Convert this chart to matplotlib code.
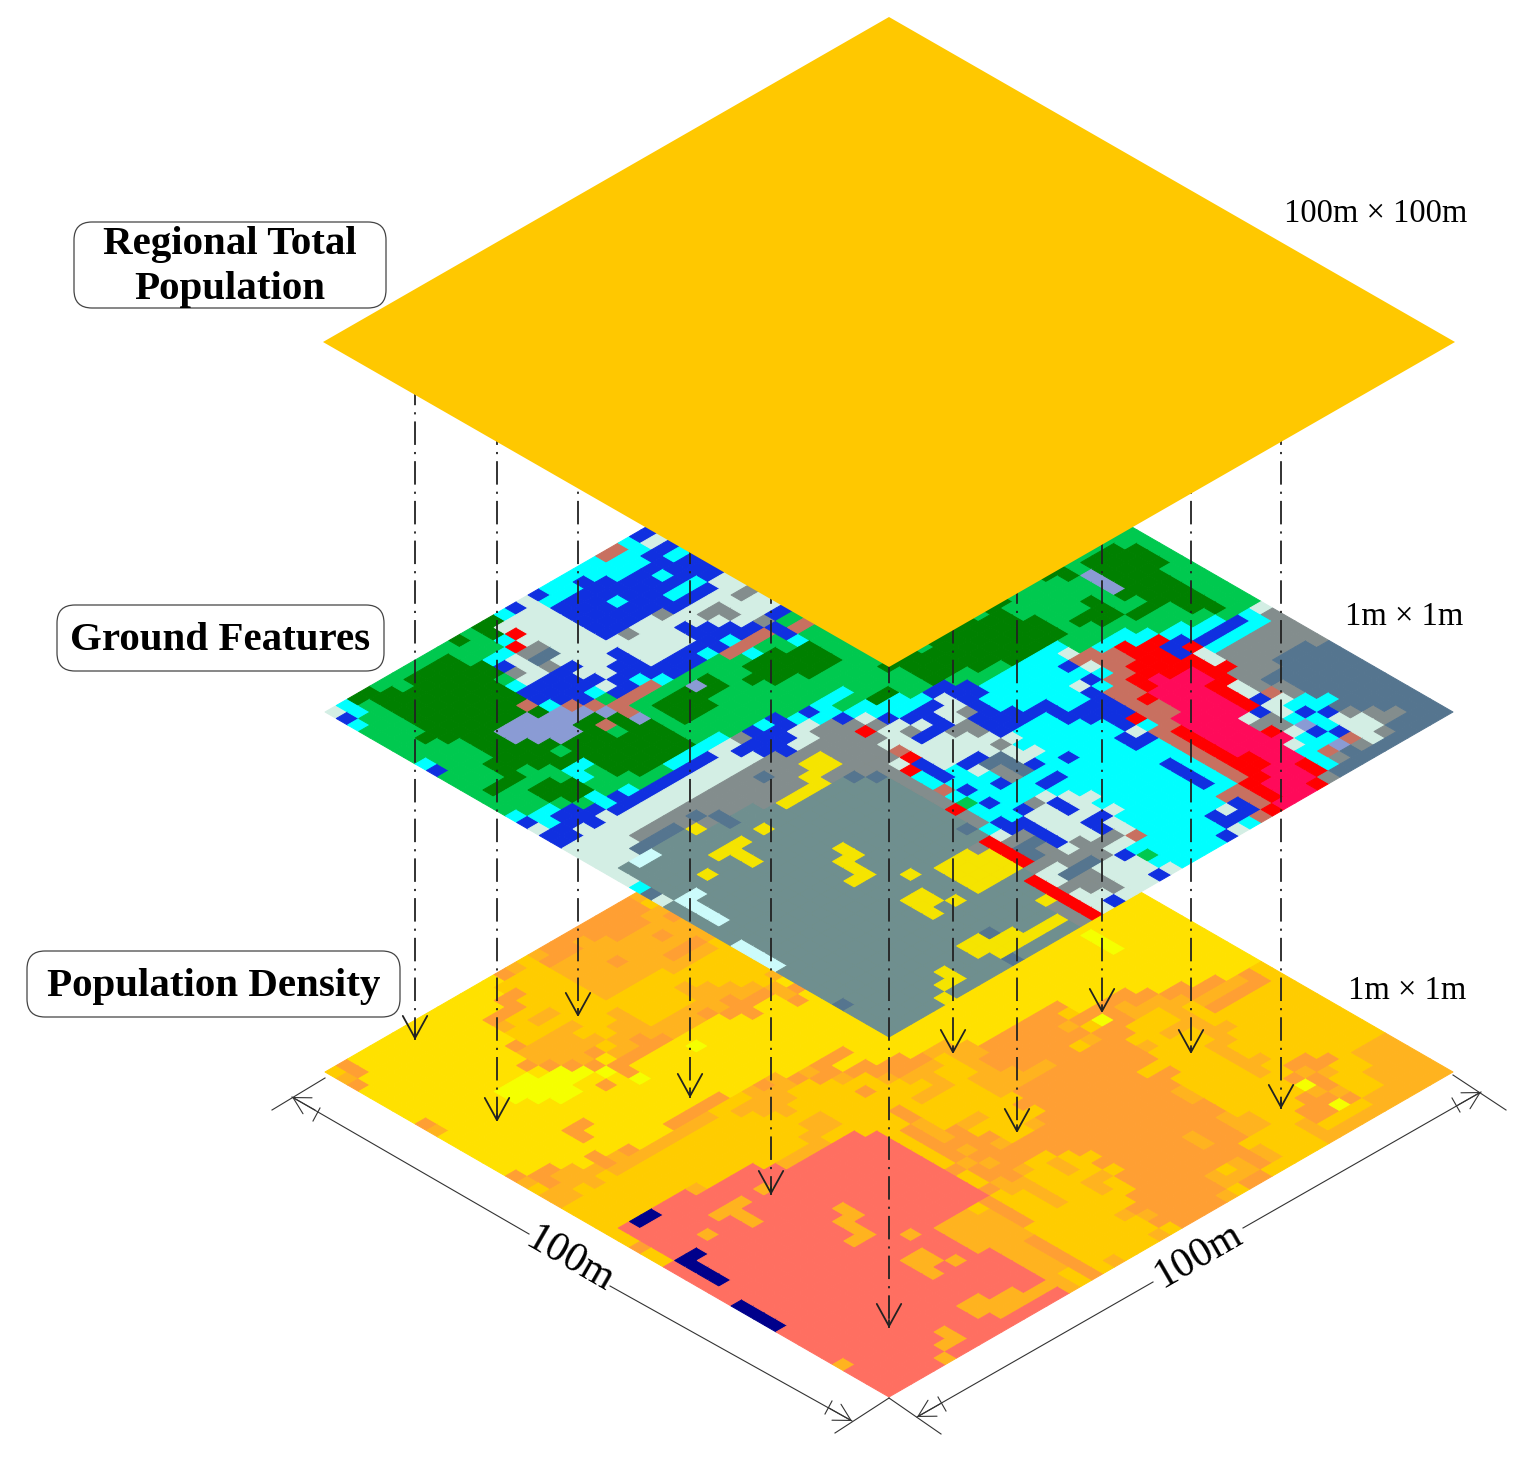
import re
from matplotlib import pyplot as plt
from matplotlib.collections import PolyCollection
from matplotlib.patches import FancyBboxPatch, Polygon

N_CELLS = 50

# cell classes of the ground features layer, one row per grid line (letter + run length)
ground_rows = [
    "w c D2 g7 D g D2 c b w b c5 t2 c b",
    "b c g D2 g D4 g3 D w4 c3 b c5 w",
    "c g2 D7 g3 c r w3 b5 c3 b2",
    "g3 D8 c2 r w4 b9 c",
    "g3 D8 b w a2 w3 b3 c b3 c b2",
    "g3 D7 g a w s2 w3 b10",
    "g2 D8 c w2 a w4 b6 c3 b",
    "g3 D7 b5 w3 w a w2 a b4 w",
    "c g3 D5 t b4 w3 b w10",
    "b g3 D2 v3 D c b4 w b2 w4 b w a2 w a",
    "g4 D2 v5 t b c w b3 w4 b2 w a w2",
    "g3 D4 v5 t g b2 c b8 w3",
    "g3 D5 v2 D2 v t4 c b3 c b c b2 a b",
    "g D3 g D2 g D3 t D t g8 t4 b g",
    "g6 D5 g D v g D3 v D g3 c g2 b t",
    "g3 D2 g c2 D6 g D5 g2 D3 g c g",
    "c g2 D3 c g D6 g D3 g3 D6 g",
    "b c2 g D2 g2 D6 g8 D5 g",
    "w c b2 g c g3 D5 g10 D3 g",
    "b5 c b c g3 c5 g12",
    "b2 w b w b9 w2 a b c b g8",
    "w15 b5 c b c3 g3 D3 g D4 g D2 g3 D2 g6",
    "w16 b3 w2 c2 g6 D9 g5 D g D3 g2",
    "w4 a13 b w2 a2 b c2 D2 g2 D9 g6 v D4 g",
    "w3 s4 a s a5 s a8 w c3 g2 D10 g5 v D4 g",
    "w e l2 e3 y a s a7 y2 a3 r a b c3 b2 g2 D7 g3 D g v D4 g",
    "w e8 s e2 a4 y3 a4 w2 b3 w b2 g3 D5 g D3 g D4 g2",
    "c e12 y4 a5 w2 a w b w2 b2 c7 g3 D2 g2 D3 g2",
    "s e5 y3 e y e7 s a3 t w b3 w a b c7 w g5 D5 g2",
    "w e3 y e2 y e11 s a w r w3 a2 b2 c6 b t2 c3 g4 D2 g2",
    "e l2 e4 y e12 a r b w4 a b3 c6 w t2 r c2 g3 D2 g2",
    "e l e18 a c b w5 b5 c2 w b c t2 r3 c2 g2 D g2",
    "e l e18 a c b c b2 w a w c3 b c2 b c t2 r3 b2 c3 g3",
    "e l e10 y e7 a t c2 w s2 w c4 b4 t2 r4 b r b4 c w",
    "e11 y2 e7 a c b c2 a s w2 c4 b3 t2 r p r3 w c5 a",
    "e11 y e8 r g c2 b a s b c6 b2 t r p4 r w a6",
    "l e9 y2 e8 a c b c6 b c4 b r t2 p4 r2 a6",
    "l e18 s a c5 b2 c5 b w c t2 p3 r2 a7",
    "l e12 y e6 c b c b a w c7 b2 t2 p4 r w a3 s3 a",
    "l e14 y3 a r w b2 w2 b w c8 t r p4 r w a s6",
    "e11 y2 e2 y4 r a2 b w2 b w2 c7 t r p4 r b t a s5",
    "e11 y2 e2 y4 r s2 b w4 c6 b c t r p3 w b w2 a s5",
    "e11 y e y e y4 r s a b w2 b2 w c5 b c t r p3 a2 w c2 s5",
    "e19 a3 w a w b w c6 b c t r p3 r a c b c2 s4",
    "e18 r w2 a5 w c6 b c t r2 p3 w v c b s5",
    "s e17 r w s3 a w2 t c8 t r2 p2 w c b c w a s4",
    "e10 y2 s e4 y r a3 w2 b c8 t2 r2 p3 c3 b w2 a s3",
    "e7 y e2 y4 e3 a r w a2 w3 g c5 b w b t r p3 r c t v t w2 a2 s2",
    "e6 y2 e3 y6 a r w2 a w3 c6 b3 t r p3 r c a s a w a s4",
    "e5 y e5 s e5 a r w b w3 b w c4 b w c t r p3 r a s10",
]

# cell classes of the population density layer, same order
density_rows = [
    "K O Y13 O A K A O8 A",
    "A O Y12 K4 O3 A O5 K",
    "O Y12 O2 K3 A5 O3 A2",
    "Y11 O3 K4 A9 O",
    "Y11 A K6 A3 O A3 O A2",
    "Y11 K2 A2 K3 A10",
    "Y10 O K7 A6 O3 A",
    "Y10 A5 K8 A4 K",
    "O Y8 O A4 K3 A K10",
    "A Y5 B3 Y O A4 K A2 K4 A K5",
    "Y6 B5 O A O K A3 K4 A2 K4",
    "Y7 B5 O Y A2 O A8 K3",
    "Y8 B2 Y2 B O5 A3 O A O A2 K A",
    "Y11 O Y O Y8 O4 A Y",
    "Y13 B Y4 B Y4 O Y2 A O",
    "Y6 O2 Y18 O Y",
    "O Y5 O Y21",
    "A O2 Y25",
    "K O A2 Y O Y22",
    "A5 O A O Y3 O5 Y12",
    "A2 K A K A9 K3 A O A Y8",
    "K15 A5 O A O3 Y25",
    "K16 A3 K2 O2 Y27",
    "K17 A K4 A O2 Y19 B Y5",
    "K24 O3 Y17 B Y5",
    "K R N2 R3 A K9 A2 K3 O K A O3 A2 Y14 B Y5",
    "K R11 K4 A3 K6 A3 K A2 Y19",
    "O R12 A4 K9 A K2 A2 O7 Y12",
    "K R5 A3 R A R8 K3 O K A3 K2 A O7 K Y12",
    "K R3 A R2 A R12 K2 O K5 A2 O6 A O5 Y8",
    "R N2 R4 A R12 K O A K5 A3 O6 K B O A O2 Y7",
    "R N R18 K O A K5 A5 O2 K A O O2 A3 O2 Y5",
    "R N R18 K O A O A2 K3 O10 K3 A2 O3 Y3",
    "R N R10 A R7 K O3 K4 O10 K4 A K A4 O K",
    "R11 A2 R7 K O A O2 K4 O9 A K A3 K O5 K",
    "R11 A R8 O A O2 A K2 A O10 K4 A K7",
    "N R9 A2 R8 K O A O13 K6 A2 K6",
    "N R19 K O17 K3 A2 K7",
    "N R12 A R6 O A O A K2 O11 K4 A K8",
    "N R14 A3 K O K A2 K2 A K O9 A K4 A K8",
    "R11 A2 R2 A4 O K2 A K2 A K2 O8 A K4 A2 K7",
    "R11 A2 R2 A4 O K2 A K4 O10 K4 A K8",
    "R11 A R A R A4 O K2 A K2 A2 K O9 K6 O2 K5",
    "R16 A3 K6 A K O6 A O2 A K5 O A O2 K4",
    "R16 A2 O K8 O6 A O2 A2 K4 B O A K2 A3",
    "A R15 A2 O K7 O10 A2 K3 O A O K3 A3",
    "R10 A2 R4 A2 O K5 A O10 K5 O3 A K2 A4",
    "R7 A R2 A4 R2 A2 O K6 A O5 A K A O A K3 A O2 B O K2 A4",
    "R6 A2 R3 A6 K O K6 O6 A3 O A K3 A K4 A6",
    "R5 A R10 A K O K A K3 A K O4 A K O2 K5 A11",
]

ground_colors = {
    "g": "#00c94f", "D": "#008000", "c": "#00ffff", "b": "#1030e0", "w": "#d3eee4",
    "r": "#ff0000", "p": "#ff0a5a", "t": "#c87060", "v": "#8a9bd4", "a": "#838d8d",
    "s": "#55758f", "e": "#6f8f8f", "y": "#f5e400", "l": "#ccfbfb",
}
density_colors = {
    "Y": "#ffe100", "K": "#ffcc00", "A": "#ffb31f", "O": "#ff9f33",
    "R": "#ff6f61", "N": "#00008b", "B": "#f5ff00",
}

# arrow x position and where its tip ends
arrow_x = [415, 497, 578, 690, 771, 889, 953, 1017, 1102, 1191, 1281]
arrow_tip = [1040, 1122, 1017, 1098, 1195, 1328, 1054, 1133, 1013, 1054, 1109]

box_labels = ["Regional Total\nPopulation", "Ground Features", "Population Density"]
size_labels = ["100m × 100m", "1m × 1m", "1m × 1m"]
side_label = "100m"

LEFT, RIGHT = 325, 1453
HALF_H = 325
STEP_X = (RIGHT - LEFT) / (2 * N_CELLS)
STEP_Y = HALF_H / N_CELLS
TOP_Y, GROUND_Y, DENSITY_Y = 342, 712, 1072


def expand_rows(rows):
    grid = []
    for row in rows:
        line = ""
        for token in row.split():
            m = re.fullmatch(r"([A-Za-z])(\d*)", token)
            line += m.group(1) * int(m.group(2) or 1)
        grid.append((line + line[-1] * N_CELLS)[:N_CELLS])
    return grid


def draw_layer(ax, rows, colors, center_y, zorder):
    verts, faces = [], []
    for i, line in enumerate(expand_rows(rows)):
        for j, key in enumerate(line):
            x = LEFT + STEP_X * (i + j + 1)
            y = center_y + STEP_Y * (i - j)
            verts.append([(x - STEP_X, y), (x, y - STEP_Y), (x + STEP_X, y), (x, y + STEP_Y)])
            faces.append(colors[key])
    ax.add_collection(PolyCollection(verts, facecolors=faces, edgecolors=faces,
                                     linewidths=0.7, zorder=zorder))


def open_arrow(ax, x0, y0, x1, y1, scale=16, color="#222222", lw=1.3):
    ax.annotate("", xy=(x1, y1), xytext=(x0, y0), zorder=6,
                arrowprops=dict(arrowstyle="->,head_length=1.0,head_width=0.55", color=color,
                                lw=lw, shrinkA=0, shrinkB=0, mutation_scale=scale))


fig = plt.figure(figsize=(15.31, 14.58), dpi=100)
ax = fig.add_axes([0, 0, 1, 1])
ax.set_xlim(0, 1531)
ax.set_ylim(1458, 0)
ax.axis("off")

draw_layer(ax, density_rows, density_colors, DENSITY_Y, 1)
draw_layer(ax, ground_rows, ground_colors, GROUND_Y, 2)

# dash-dot drop lines, they start hidden under the top plate
for x, tip in zip(arrow_x, arrow_tip):
    ax.plot([x, x], [TOP_Y, tip], color="#222222", lw=1.3, zorder=3,
            linestyle=(0, (13, 3.9, 1.2, 3.9)))
    open_arrow(ax, x, tip - 8, x, tip)

cx = (LEFT + RIGHT) / 2
ax.add_patch(Polygon([(LEFT - 2, TOP_Y), (cx, TOP_Y - HALF_H), (RIGHT + 2, TOP_Y), (cx, TOP_Y + HALF_H)],
                     closed=True, facecolor="#ffc800", edgecolor="none", zorder=4))

# rounded label boxes
boxes = [(74, 222, 312, 86), (57, 605, 327, 66), (27, 951, 373, 66)]
for (bx, by, bw, bh), label in zip(boxes, box_labels):
    ax.add_patch(FancyBboxPatch((bx + 18, by + 18), bw - 36, bh - 36,
                                boxstyle="round,pad=18,rounding_size=18",
                                facecolor="white", edgecolor="#444444", lw=0.9, zorder=5))
    ax.text(bx + bw / 2, by + bh / 2 + 2, label, ha="center", va="center", fontsize=29.5,
            fontweight="bold", family="Liberation Serif", color="black", linespacing=1.3,
            zorder=6)

# resolution labels
ax.text(1376, 214, size_labels[0], ha="center", va="center", fontsize=23.5,
        family="Liberation Serif", color="black")
ax.text(1404, 617, size_labels[1], ha="center", va="center", fontsize=23.5,
        family="Liberation Serif", color="black")
ax.text(1407, 991, size_labels[2], ha="center", va="center", fontsize=23.5,
        family="Liberation Serif", color="black")

# dimension lines along the two lower edges
dim = "#333333"
ax.plot([272, 325], [1110, 1078], color=dim, lw=0.8, zorder=5)
ax.plot([835, 889], [1433, 1398], color=dim, lw=0.8, zorder=5)
ax.plot([889, 941], [1398, 1434], color=dim, lw=0.8, zorder=5)
ax.plot([1453, 1506], [1075, 1110], color=dim, lw=0.8, zorder=5)

ax.plot([292, 529], [1097, 1234], color=dim, lw=0.8, zorder=5)
ax.plot([610, 852], [1286, 1421], color=dim, lw=0.8, zorder=5)
open_arrow(ax, 315, 1110, 292, 1097, scale=12, color=dim, lw=0.8)
open_arrow(ax, 829, 1408, 852, 1421, scale=12, color=dim, lw=0.8)
ax.plot([313, 320], [1121, 1108], color=dim, lw=0.8, zorder=5)
ax.plot([825, 832], [1414, 1401], color=dim, lw=0.8, zorder=5)

ax.plot([917, 1153], [1417, 1282], color=dim, lw=0.8, zorder=5)
ax.plot([1243, 1481], [1228, 1092], color=dim, lw=0.8, zorder=5)
open_arrow(ax, 940, 1404, 917, 1417, scale=12, color=dim, lw=0.8)
open_arrow(ax, 1458, 1105, 1481, 1092, scale=12, color=dim, lw=0.8)
ax.plot([938, 946], [1397, 1411], color=dim, lw=0.8, zorder=5)
ax.plot([1452, 1460], [1098, 1112], color=dim, lw=0.8, zorder=5)

ax.text(570, 1260, side_label, rotation=-30, rotation_mode="anchor", ha="center", va="center",
        fontsize=30, family="Liberation Serif", color="black", zorder=6)
ax.text(1198, 1255, side_label, rotation=30, rotation_mode="anchor", ha="center", va="center",
        fontsize=30, family="Liberation Serif", color="black", zorder=6)

fig.savefig("out.png", dpi=100, facecolor="white")
